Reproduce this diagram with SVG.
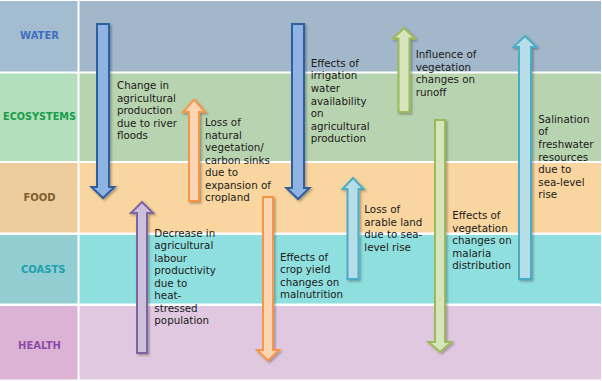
<svg xmlns="http://www.w3.org/2000/svg" width="602" height="381" viewBox="0 0 602 381">
<style>
.lbl{font-family:"DejaVu Sans","Verdana",sans-serif;font-weight:bold;font-size:10px;text-anchor:middle}
.t{font-family:"DejaVu Sans","Verdana",sans-serif;font-size:10.3px;fill:#1a1a1a}
.ar{stroke-width:2;stroke-linejoin:miter;filter:url(#sh)}
.blue{fill:#8fb4e3;stroke:#2f5e9e}
.orange{fill:#fcd5b4;stroke:#f79646}
.purple{fill:#ccc0da;stroke:#8064a2}
.lblue{fill:#b7dee8;stroke:#4bacc6}
.green{fill:#d7e4bc;stroke:#9bbb59}
</style>
<defs>
<filter id="sh" x="-50%" y="-10%" width="200%" height="120%">
<feDropShadow dx="1.5" dy="1.5" stdDeviation="1" flood-color="#000" flood-opacity="0.3"/>
</filter>
</defs>
<rect x="0" y="0" width="602" height="381" fill="#ffffff"/>
<g id="row-water">
<rect x="0" y="1" width="77.5" height="70.5" fill="#a3bccf"/>
<rect x="79.5" y="1" width="521.5" height="70.5" fill="#a3b7ca"/>
<text class="lbl" x="39.5" y="38.5" fill="#3f6dc0">WATER</text>
</g>
<g id="row-ecosystems">
<rect x="0" y="73.5" width="77.5" height="87.5" fill="#b3dfbd"/>
<rect x="79.5" y="73.5" width="521.5" height="87.5" fill="#b8d3af"/>
<text class="lbl" x="39.5" y="120" fill="#199c4b" font-size="9.7" style="font-size:9.7px">ECOSYSTEMS</text>
</g>
<g id="row-food">
<rect x="0" y="163" width="77.5" height="69.5" fill="#edcd9c"/>
<rect x="79.5" y="163" width="521.5" height="69.5" fill="#f9d59f"/>
<text class="lbl" x="39.5" y="201" fill="#7d5d2e">FOOD</text>
</g>
<g id="row-coasts">
<rect x="0" y="235" width="77.5" height="68.5" fill="#92ced1"/>
<rect x="79.5" y="235" width="521.5" height="68.5" fill="#8fdfdf"/>
<text class="lbl" x="43.3" y="272.7" fill="#1d9fae">COASTS</text>
</g>
<g id="row-health">
<rect x="0" y="306" width="77.5" height="73.5" fill="#dcb2d5"/>
<rect x="79.5" y="306" width="521.5" height="73.5" fill="#e0c9e0"/>
<text class="lbl" x="39.5" y="349.3" fill="#8a4ca6">HEALTH</text>
</g>
<g id="connectors">
<g id="arrow-river-floods">
<path class="ar blue" d="M97,24 H109 V187 H114.5 L103,198 L91.5,187 H97 Z"/>
<text class="t" x="117" y="89.3"><tspan x="117">Change in</tspan><tspan x="117" dy="12.4">agricultural</tspan><tspan x="117" dy="12.4">production</tspan><tspan x="117" dy="12.4">due to river</tspan><tspan x="117" dy="12.4">floods</tspan></text>
</g>
<g id="arrow-cropland">
<path class="ar orange" d="M189,201 V112 H183 L194,99.5 L205,112 H199 V201 Z"/>
<text class="t" x="205" y="126"><tspan x="205">Loss of</tspan><tspan x="205" dy="12.5">natural</tspan><tspan x="205" dy="12.5">vegetation/</tspan><tspan x="205" dy="12.5">carbon sinks</tspan><tspan x="205" dy="12.5">due to</tspan><tspan x="205" dy="12.5">expansion of</tspan><tspan x="205" dy="12.5">cropland</tspan></text>
</g>
<g id="arrow-labour">
<path class="ar purple" d="M137,353 V213 H131 L142,202 L153,213 H147 V353 Z"/>
<text class="t" x="154.3" y="236.7"><tspan x="154.3">Decrease in</tspan><tspan x="154.3" dy="12.5">agricultural</tspan><tspan x="154.3" dy="12.5">labour</tspan><tspan x="154.3" dy="12.5">productivity</tspan><tspan x="154.3" dy="12.5">due to</tspan><tspan x="154.3" dy="12.5">heat-</tspan><tspan x="154.3" dy="12.5">stressed</tspan><tspan x="154.3" dy="12.5">population</tspan></text>
</g>
<g id="arrow-malnutrition">
<path class="ar orange" d="M263,197 H273 V350 H279 L268,360.5 L257,350 H263 Z"/>
<text class="t" x="280" y="260.7"><tspan x="280">Effects of</tspan><tspan x="280" dy="12.5">crop yield</tspan><tspan x="280" dy="12.5">changes on</tspan><tspan x="280" dy="12.5">malnutrition</tspan></text>
</g>
<g id="arrow-irrigation">
<path class="ar blue" d="M292,24 H304 V188 H309.5 L298,199 L286.5,188 H292 Z"/>
<text class="t" x="310.7" y="66.7"><tspan x="310.7">Effects of</tspan><tspan x="310.7" dy="12.6">irrigation</tspan><tspan x="310.7" dy="12.6">water</tspan><tspan x="310.7" dy="12.6">availability</tspan><tspan x="310.7" dy="12.6">on</tspan><tspan x="310.7" dy="12.6">agricultural</tspan><tspan x="310.7" dy="12.6">production</tspan></text>
</g>
<g id="arrow-arable-land">
<path class="ar lblue" d="M347.5,279 V189 H342.5 L353,178 L363.5,189 H358.5 V279 Z"/>
<text class="t" x="364.3" y="213.3"><tspan x="364.3">Loss of</tspan><tspan x="364.3" dy="12.5">arable land</tspan><tspan x="364.3" dy="12.5">due to sea-</tspan><tspan x="364.3" dy="12.5">level rise</tspan></text>
</g>
<g id="arrow-runoff">
<path class="ar green" d="M398.5,112 V38.5 H393 L404,28 L415,38.5 H409.5 V112 Z"/>
<text class="t" x="415.7" y="58.3"><tspan x="415.7">Influence of</tspan><tspan x="415.7" dy="12.5">vegetation</tspan><tspan x="415.7" dy="12.5">changes on</tspan><tspan x="415.7" dy="12.5">runoff</tspan></text>
</g>
<g id="arrow-malaria">
<path class="ar green" d="M435,120 H445 V342 H451.5 L440,352 L428.5,342 H435 Z"/>
<text class="t" x="452.3" y="219"><tspan x="452.3">Effects of</tspan><tspan x="452.3" dy="12.6">vegetation</tspan><tspan x="452.3" dy="12.6">changes on</tspan><tspan x="452.3" dy="12.6">malaria</tspan><tspan x="452.3" dy="12.6">distribution</tspan></text>
</g>
<g id="arrow-salination">
<path class="ar lblue" d="M519,279 V47 H513.5 L525,36 L536.5,47 H531 V279 Z"/>
<text class="t" x="538.3" y="122.7"><tspan x="538.3">Salination</tspan><tspan x="538.3" dy="12.6">of</tspan><tspan x="538.3" dy="12.6">freshwater</tspan><tspan x="538.3" dy="12.6">resources</tspan><tspan x="538.3" dy="12.6">due to</tspan><tspan x="538.3" dy="12.6">sea-level</tspan><tspan x="538.3" dy="12.6">rise</tspan></text>
</g>
</g>
</svg>
